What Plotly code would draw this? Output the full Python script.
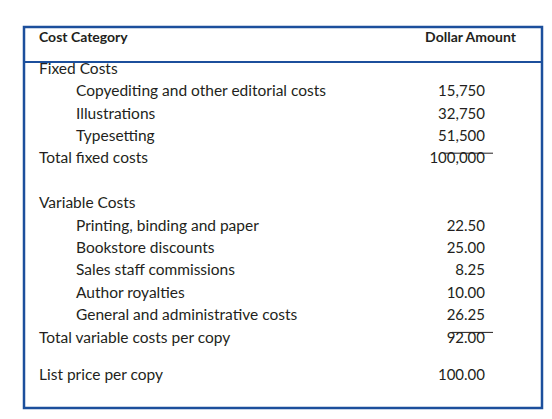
import plotly.graph_objects as go

# table content
labels = ["Fixed Costs", "Copyediting and other editorial costs", "Illustrations", "Typesetting",
          "Total fixed costs", "", "Variable Costs", "Printing, binding and paper",
          "Bookstore discounts", "Sales staff commissions", "Author royalties",
          "General and administrative costs", "Total variable costs per copy", "",
          "List price per copy"]
indent = [0, 1, 1, 1, 0, 0, 0, 1, 1, 1, 1, 1, 0, 0, 0]
amounts = ["", "15,750", "32,750", "51,500", "100,000", "", "", "22.50", "25.00",
           "8.25", "10.00", "26.25", "92.00", "", "100.00"]
underlined = [3, 11]
headers = ["Cost Category", "Dollar Amount"]

BLUE = "#1c4f9c"
FONT = "Lato"
row_h = 22.4
rows_y = [69 + row_h * i - (7 if i >= 14 else 0) for i in range(len(labels))]
dy = -7  # compensate text trace offset
text_y = [y + dy for y in rows_y]

fig = go.Figure()
fig.add_trace(go.Scatter(
    x=[31 + 37 * d for d in indent], y=text_y, text=labels, mode="text",
    textposition="middle right", textfont=dict(family=FONT, size=15.5, color="#231f20"),
    hoverinfo="skip"))
fig.add_trace(go.Scatter(
    x=[477] * len(amounts), y=text_y, text=amounts, mode="text",
    textposition="middle left", textfont=dict(family=FONT, size=15, color="#231f20"),
    hoverinfo="skip"))
fig.add_trace(go.Scatter(
    x=[31, 508], y=[37 + dy, 37 + dy], text=["<b>%s</b>" % h for h in headers], mode="text",
    textposition=["middle right", "middle left"],
    textfont=dict(family=FONT, size=14, color="#231f20"), hoverinfo="skip"))

shapes = [
    dict(type="rect", x0=16, x1=534, y0=19, y1=400, line=dict(color=BLUE, width=2.5)),
    dict(type="line", x0=16, x1=534, y0=54, y1=54, line=dict(color=BLUE, width=2)),
]
for i in underlined:
    w = 8.2 * len(amounts[i])
    shapes.append(dict(type="line", x0=485 - w, x1=485, y0=rows_y[i] + 9, y1=rows_y[i] + 9,
                       line=dict(color="#231f20", width=1)))

fig.update_layout(
    width=552, height=419, margin=dict(l=0, r=0, t=0, b=0),
    paper_bgcolor="white", plot_bgcolor="white", showlegend=False, shapes=shapes,
    xaxis=dict(range=[0, 552], visible=False, fixedrange=True),
    yaxis=dict(range=[419, 0], visible=False, fixedrange=True),
)
fig.write_html("out.html")
